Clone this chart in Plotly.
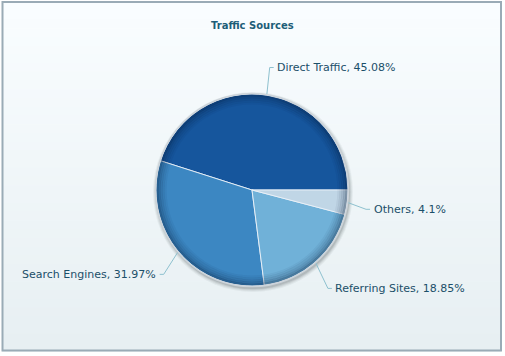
import math
import plotly.graph_objects as go

# ---- data ----
labels = ["Direct Traffic", "Search Engines", "Referring Sites", "Others"]
values = [45.08, 31.97, 18.85, 4.1]
colors = ["#16569d", "#3c87c2", "#70b1d8", "#c0d6e6"]
title_text = "Traffic Sources"

# ---- layout constants ----
W, H = 505, 356
cx, cy, R = 252, 190, 96
EX_A, EX_B, EX_C = 115, 127, 3   # label orbit (horizontal / vertical radius, vertical offset)
TEXT_COLOR = "#1b4f69"
LINE_COLOR = "#8ec1cf"

total = sum(values)
# first slice starts at 3 o'clock and runs counterclockwise
rotation = 90 - 360 * values[0] / total

fig = go.Figure()

fig.add_trace(go.Pie(
    labels=labels, values=values, sort=False,
    direction="counterclockwise", rotation=rotation,
    marker=dict(colors=colors, line=dict(color="rgba(235,242,248,0.9)", width=1)),
    textinfo="none", hoverinfo="label+percent", showlegend=False,
    domain=dict(x=[(cx - R) / W, (cx + R) / W], y=[1 - (cy + R) / H, 1 - (cy - R) / H]),
))

shapes = []
# background gradient inside the frame
top = (249, 253, 255)
bot = (231, 239, 242)
N = 40
y0, y1 = 2, 351
for i in range(N):
    t = i / (N - 1)
    c = tuple(round(top[k] + (bot[k] - top[k]) * t) for k in range(3))
    ya = y0 + (y1 - y0) * i / N
    yb = y0 + (y1 - y0) * (i + 1) / N + 0.6
    shapes.append(dict(type="rect", xref="x", yref="y", x0=2, x1=501, y0=ya, y1=yb,
                       fillcolor="rgb(%d,%d,%d)" % c, line=dict(width=0), layer="below"))
# frame
shapes.append(dict(type="rect", xref="x", yref="y", x0=2.5, x1=501, y0=2, y1=350.5,
                   line=dict(color="#9aabb6", width=2), fillcolor="rgba(0,0,0,0)", layer="below"))
# drop shadow
for d, a in [(4, 0.05), (3, 0.07), (2, 0.09), (1, 0.12)]:
    r = R + d
    shapes.append(dict(type="circle", xref="x", yref="y", x0=cx + 1 - r, x1=cx + 1 + r,
                       y0=cy + 2 - r, y1=cy + 2 + r, fillcolor="rgba(40,50,60,%.2f)" % a,
                       line=dict(width=0), layer="below"))
# inner rim shading
for r, a in [(94.5, 0.34), (92.5, 0.24), (90.5, 0.16), (88.5, 0.10), (86.5, 0.05)]:
    shapes.append(dict(type="circle", xref="x", yref="y", x0=cx - r, x1=cx + r,
                       y0=cy - r, y1=cy + r, line=dict(color="rgba(0,20,50,%.2f)" % a, width=2.2),
                       fillcolor="rgba(0,0,0,0)", layer="above"))
# outer light outline
shapes.append(dict(type="circle", xref="x", yref="y", x0=cx - R - 0.5, x1=cx + R + 0.5,
                   y0=cy - R - 0.5, y1=cy + R + 0.5, line=dict(color="rgba(205,212,218,1)", width=1.5),
                   fillcolor="rgba(0,0,0,0)", layer="above"))

# connector lines and labels computed from the slice angles
cum = 0.0
annotations = []
for lab, v in zip(labels, values):
    mid = 2 * math.pi * (cum + v / 2) / total
    cum += v
    ex, ey = cx + R * math.cos(mid), cy - R * math.sin(mid)
    kx, ky = cx + EX_A * math.cos(mid), cy + EX_C - EX_B * math.sin(mid)
    side = 1 if math.cos(mid) >= 0 else -1
    hx = kx + side * 4
    fig.add_trace(go.Scatter(x=[ex, kx, hx], y=[ey, ky, ky], mode="lines",
                             line=dict(color=LINE_COLOR, width=1), hoverinfo="skip",
                             showlegend=False))
    pct = ("%g" % v) + "%"
    annotations.append(dict(x=hx + side * 1.5, y=ky, xref="x", yref="y",
                            text="%s, %s" % (lab, pct), showarrow=False,
                            xanchor="left" if side > 0 else "right", yanchor="middle",
                            font=dict(family="DejaVu Sans, Verdana, sans-serif", size=11, color=TEXT_COLOR)))

annotations.append(dict(x=W / 2, y=25, xref="x", yref="y", text="<b>%s</b>" % title_text,
                        showarrow=False, xanchor="center", yanchor="middle",
                        font=dict(family="DejaVu Sans, Verdana, sans-serif", size=10, color="#1d5e78")))

fig.update_layout(
    width=W, height=H, margin=dict(l=0, r=0, t=0, b=0),
    paper_bgcolor="white", plot_bgcolor="rgba(0,0,0,0)",
    xaxis=dict(range=[0, W], visible=False, fixedrange=True, domain=[0, 1]),
    yaxis=dict(range=[H, 0], visible=False, fixedrange=True, domain=[0, 1]),
    shapes=shapes, annotations=annotations, showlegend=False,
)

fig.write_html("out.html", config={"displayModeBar": False},
               post_script="document.body.style.margin='0';document.body.style.overflow='hidden';")
